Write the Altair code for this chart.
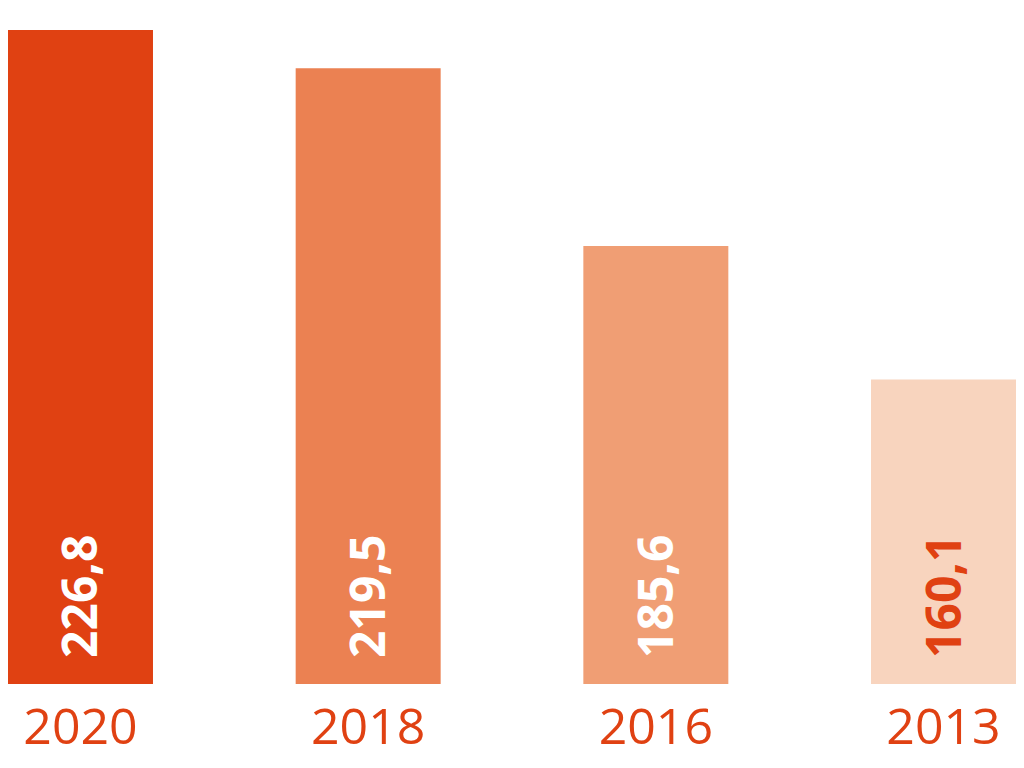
import altair as alt
import pandas as pd

years = ["2020", "2018", "2016", "2013"]
values = [226.8, 219.5, 185.6, 160.1]
labels = ["226,8", "219,5", "185,6", "160,1"]

bar_colors = ["#E04112", "#EB8152", "#F09E74", "#F8D4BE"]
label_colors = ["#FFFFFF", "#FFFFFF", "#FFFFFF", "#E04112"]
year_color = "#E04112"

df = pd.DataFrame({"year": years, "value": values, "label": labels})

Y_MIN, Y_MAX = 102, 231

x = alt.X("year:N", sort=years, axis=None,
          scale=alt.Scale(paddingInner=0.496, paddingOuter=0))
yscale = alt.Scale(domain=[Y_MIN, Y_MAX], zero=False, clamp=True, nice=False)

base = alt.Chart(df)

bars = base.mark_bar().encode(
    x=x,
    y=alt.Y("value:Q", scale=yscale, axis=None),
    y2=alt.datum(Y_MIN),
    color=alt.Color("year:N", scale=alt.Scale(domain=years, range=bar_colors), legend=None),
)

vals = base.mark_text(
    angle=270, align="left", baseline="middle", dx=26, dy=3,
    font="Open Sans", fontWeight="bold", fontSize=48,
).encode(
    x=x,
    y=alt.datum(Y_MIN),
    text="label:N",
    color=alt.Color("year:N", scale=alt.Scale(domain=years, range=label_colors), legend=None),
)

yrs = base.mark_text(
    baseline="alphabetic", dy=60, font="Open Sans", fontSize=50, color=year_color,
).encode(
    x=x,
    y=alt.datum(Y_MIN),
    text="year:N",
)

chart = alt.layer(bars, vals, yrs).resolve_scale(color="independent").properties(
    width=1008,
    height=676,
    autosize=alt.AutoSizeParams(type="none"),
    padding={"top": 0, "left": 0, "right": 0, "bottom": 76},
).configure_view(stroke=None)

chart.save("out.html", embed_options={"renderer": "svg", "actions": False})
